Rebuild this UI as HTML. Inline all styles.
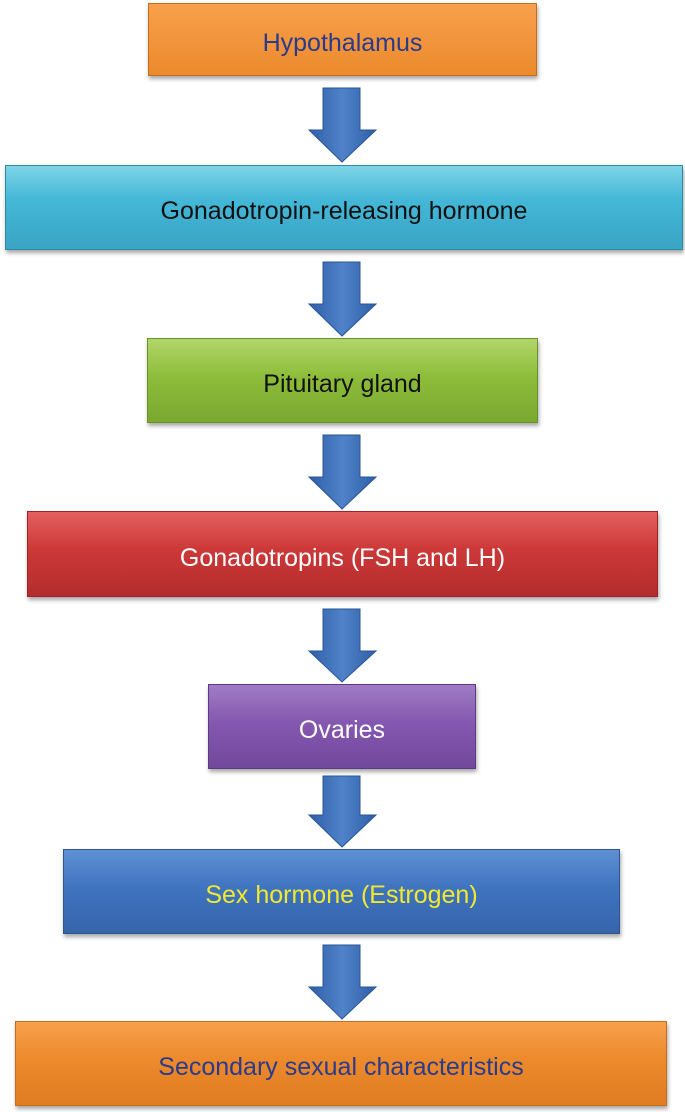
<!DOCTYPE html>
<html><head><style>
body{margin:0;width:685px;height:1112px;background:#fff;position:relative;overflow:hidden;font-family:"Liberation Sans",sans-serif}
.b{position:absolute;display:flex;align-items:center;justify-content:center;font-size:25px;padding-top:8px;box-shadow:1px 3px 4px rgba(0,0,0,.35);box-sizing:border-box}
svg{position:absolute;left:0;top:0}
</style></head><body>
<div class="b" style="left:148px;top:3px;width:389px;height:73px;background:linear-gradient(#f7a04c,#ec8a2c);border:1px solid #c56e1e;color:#2a3a8c">Hypothalamus</div>
<div class="b" style="left:5px;top:165px;width:678px;height:85px;background:linear-gradient(#7fd4e6,#44b8d8 40%,#3aa4c4);border:1px solid #2d8aa6;color:#111">Gonadotropin-releasing hormone</div>
<div class="b" style="left:147px;top:338px;width:391px;height:85px;background:linear-gradient(#b2d66a,#8dbd3a 45%,#7aa830);border:1px solid #6a9228;color:#111">Pituitary gland</div>
<div class="b" style="left:27px;top:511px;width:631px;height:86px;background:linear-gradient(#e46060,#cc3838 45%,#b42c2c);border:1px solid #9c2424;color:#fff">Gonadotropins (FSH and LH)</div>
<div class="b" style="left:208px;top:684px;width:268px;height:85px;background:linear-gradient(#a07cc4,#8458b0 45%,#72489c);border:1px solid #5e3a84;color:#fff">Ovaries</div>
<div class="b" style="left:63px;top:849px;width:557px;height:85px;background:linear-gradient(#5f90d2,#3f74c0 45%,#3664aa);border:1px solid #2d5690;color:#f2e830">Sex hormone (Estrogen)</div>
<div class="b" style="left:15px;top:1021px;width:652px;height:85px;background:linear-gradient(#f7a04c,#ec8a2c 45%,#e07c22);border:1px solid #c56e1e;color:#2a3a8c">Secondary sexual characteristics</div>
<svg width="685" height="1112">
<defs><linearGradient id="g" x1="0" x2="1"><stop offset="0" stop-color="#2f5fa8"/><stop offset=".5" stop-color="#4f82c8"/><stop offset="1" stop-color="#2f5fa8"/></linearGradient></defs>
<g fill="url(#g)" stroke="#2a5596" stroke-width="1">
<polygon points="323,88 360,88 360,130 376,130 342,162 309,130 323,130"/>
<polygon points="323,262 360,262 360,304 376,304 342,336 309,304 323,304"/>
<polygon points="323,435 360,435 360,477 376,477 342,509 309,477 323,477"/>
<polygon points="323,609 360,609 360,651 376,651 342,682 309,651 323,651"/>
<polygon points="323,776 360,776 360,815 376,815 342,847 309,815 323,815"/>
<polygon points="323,945 360,945 360,987 376,987 342,1019 309,987 323,987"/>
</g></svg>
</body></html>
